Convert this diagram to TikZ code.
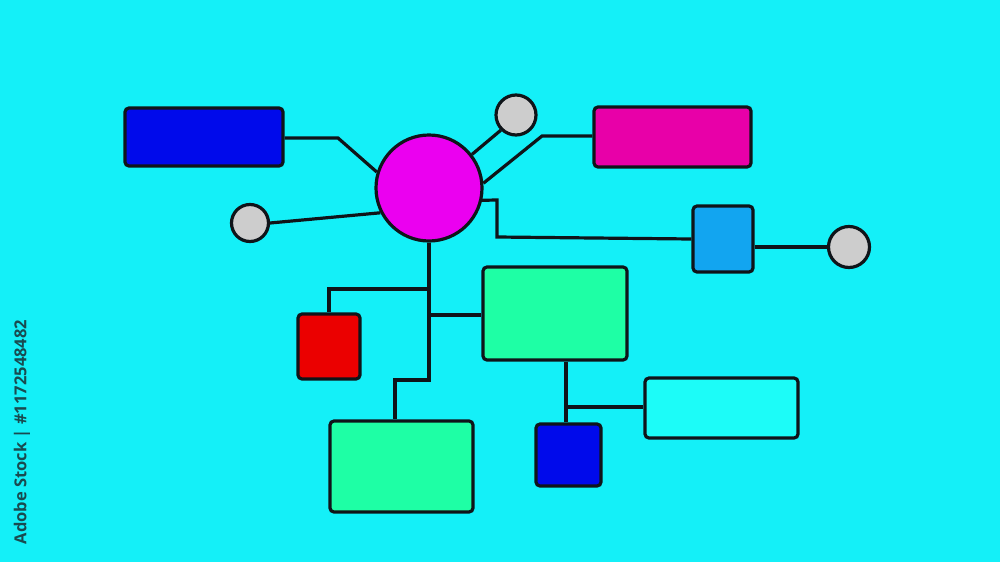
\documentclass[tikz,border=0pt]{standalone}
\usepackage{fontspec}
\setmainfont{Open Sans}
\definecolor{bg}{RGB}{20,240,248}
\definecolor{dblue}{RGB}{0,10,235}
\definecolor{magc}{RGB}{235,0,240}
\definecolor{pinkc}{RGB}{232,0,168}
\definecolor{greyc}{RGB}{205,205,205}
\definecolor{lblue}{RGB}{18,165,240}
\definecolor{greenc}{RGB}{30,255,165}
\definecolor{redc}{RGB}{235,0,0}
\definecolor{cyanc}{RGB}{28,252,248}
\definecolor{linec}{RGB}{15,20,25}
\definecolor{wm}{RGB}{25,75,80}
\begin{document}
\begin{tikzpicture}[x=1pt,y=-1pt,
  box/.style={draw=linec,line width=3.2pt,rounded corners=4pt,inner sep=0pt},
  ball/.style={draw=linec,line width=3.2pt,circle,inner sep=0pt,fill=greyc},
  wire/.style={draw=linec,line width=3.2pt}]
\fill[bg] (0,0) rectangle (1000,562);
\useasboundingbox (0,0) rectangle (1000,562);
% nodes
\node[box,fill=dblue,minimum width=158pt,minimum height=58pt] (b1) at (204,137) {};
\node[draw=linec,line width=3.2pt,circle,inner sep=0pt,fill=magc,minimum size=106pt] (hub) at (429,188) {};
\node[ball,minimum size=40pt] (g1) at (516,115) {};
\node[box,fill=pinkc,minimum width=157pt,minimum height=60pt] (p1) at (672.5,137) {};
\node[ball,minimum size=37pt] (g2) at (250,223) {};
\node[box,fill=lblue,minimum width=60pt,minimum height=66pt] (lb) at (723,239) {};
\node[ball,minimum size=41pt] (g3) at (849,247) {};
\node[box,fill=greenc,minimum width=144pt,minimum height=93pt] (gr1) at (555,313.5) {};
\node[box,fill=redc,minimum width=62pt,minimum height=65pt] (rd) at (329,346.5) {};
\node[box,fill=greenc,minimum width=143pt,minimum height=91pt] (gr2) at (401.5,466.5) {};
\node[box,fill=dblue,minimum width=65pt,minimum height=62pt] (bs) at (568.5,455) {};
\node[box,fill=cyanc,minimum width=153pt,minimum height=60pt] (cy) at (721.5,408) {};
% connectors
\coordinate (k1) at (338,138);
\draw[wire] (b1.east |- k1) -- (k1) -- (hub.163);
\draw[wire] (hub.38) -- (g1.225);
\coordinate (k2) at (542,136);
\draw[wire] (hub.5) -- (k2) -- (p1.west |- k2);
\draw[wire] (g2.east) -- (hub.207);
\coordinate (k3) at (497,200);
\coordinate (k4) at (497,237);
\draw[wire] (hub.-13) -- (k3) -- (k4) -- (lb.west);
\draw[wire] (lb.east |- g3) -- (g3.west);
\coordinate (t1) at (429,289);
\coordinate (t2) at (429,315);
\coordinate (t3) at (429,380);
\coordinate (t4) at (395,380);
\draw[wire] (hub.south) -- (t1) -- (t2) -- (t3) -- (t4) -- (gr2.north -| t4);
\draw[wire] (t1) -- (rd.north |- t1) -- (rd.north);
\draw[wire] (t2) -- (gr1.west |- t2);
\coordinate (t5) at (566,407);
\draw[wire] (gr1.south -| t5) -- (t5) -- (bs.north -| t5);
\draw[wire] (t5) -- (cy.west |- t5);
% side text
\node[rotate=90,text=wm,font=\fontsize{16.5}{18}\selectfont\bfseries,inner sep=0pt] (adobe) at (22,432) {Adobe Stock | \#1172548482};
\end{tikzpicture}
\end{document}
